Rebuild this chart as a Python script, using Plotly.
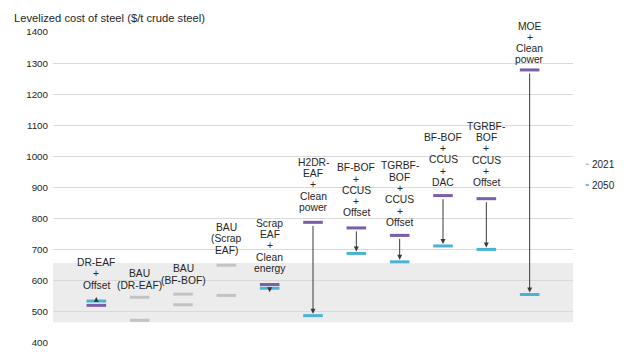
import plotly.graph_objects as go

# ---------------- data ----------------
categories = ["DR-EAF + Offset", "BAU (DR-EAF)", "BAU (BF-BOF)", "BAU (Scrap EAF)",
              "Scrap EAF + Clean energy", "H2DR-EAF + Clean power",
              "BF-BOF + CCUS + Offset", "TGRBF-BOF + CCUS + Offset",
              "BF-BOF + CCUS + DAC", "TGRBF-BOF + CCUS + Offset (2)", "MOE + Clean power"]
label_lines = [
    ["DR-EAF", "+", "Offset"],
    ["BAU", "(DR-EAF)"],
    ["BAU", "(BF-BOF)"],
    ["BAU", "(Scrap", "EAF)"],
    ["Scrap", "EAF", "+", "Clean", "energy"],
    ["H2DR-", "EAF", "+", "Clean", "power"],
    ["BF-BOF", "+", "CCUS", "+", "Offset"],
    ["TGRBF-", "BOF", "+", "CCUS", "+", "Offset"],
    ["BF-BOF", "+", "CCUS", "+", "DAC"],
    ["TGRBF-", "BOF", "+", "CCUS", "+", "Offset"],
    ["MOE", "+", "Clean", "power"],
]
is_bau = [False, True, True, True, False, False, False, False, False, False, False]
cost_2021 = [521, 547, 557, 650, 588, 788, 770, 746, 874, 864, 1278]
cost_2050 = [535, 473, 523, 553, 576, 488, 688, 661, 712, 701, 556]
y_ticks = [400, 500, 600, 700, 800, 900, 1000, 1100, 1200, 1300, 1400]
band_low, band_high = 467, 657

# ---------------- style ----------------
PURPLE = "#7a5ea8"
CYAN = "#4ab3d1"
GRAY = "#c3c3c3"
ARROW = "#3a3a3a"
TEXT = "#262626"
FONT = "Liberation Sans, Arial, sans-serif"
label_gap = [16, 12, 14, 15, 16, 15, 15, 13, 13, 16, 10]
line_step = 11.3

xpos = list(range(1, len(categories) + 1))

fig = go.Figure()

px = [x for x, b in zip(xpos, is_bau) if not b]
p21 = [v for v, b in zip(cost_2021, is_bau) if not b]
p50 = [v for v, b in zip(cost_2050, is_bau) if not b]
bx = [x for x, b in zip(xpos, is_bau) if b]
b21 = [v for v, b in zip(cost_2021, is_bau) if b]
b50 = [v for v, b in zip(cost_2050, is_bau) if b]

fig.add_trace(go.Scatter(x=bx + bx, y=b21 + b50, mode="markers", showlegend=False,
                         marker=dict(symbol="line-ew", size=14,
                                     line=dict(width=3, color=GRAY)),
                         hoverinfo="skip"))
fig.add_trace(go.Scatter(x=px, y=p21, mode="markers", showlegend=False,
                         marker=dict(symbol="line-ew", size=14,
                                     line=dict(width=3, color=PURPLE)),
                         hoverinfo="skip"))
fig.add_trace(go.Scatter(x=px, y=p50, mode="markers", showlegend=False,
                         marker=dict(symbol="line-ew", size=14,
                                     line=dict(width=3, color=CYAN)),
                         hoverinfo="skip"))

annotations = []
for x, a, b, bau in zip(xpos, cost_2021, cost_2050, is_bau):
    if bau:
        continue
    short = abs(a - b) < 30
    shift = (4 if b > a else -4) if short else 0
    annotations.append(dict(x=x, y=b, ax=x, ay=a, xref="x", yref="y", axref="x", ayref="y",
                            showarrow=True, arrowhead=2, arrowsize=1, arrowwidth=1,
                            arrowcolor=ARROW, standoff=0 if short else 2,
                            startstandoff=0 if short else 2, yshift=shift, text=""))

for x, lines, a, b, gap in zip(xpos, label_lines, cost_2021, cost_2050, label_gap):
    top = max(a, b)
    n = len(lines)
    for i, t in enumerate(lines):
        annotations.append(dict(x=x, y=top, xref="x", yref="y", text=t, showarrow=False,
                                xanchor="center", yanchor="middle",
                                yshift=gap + (n - 1 - i) * line_step,
                                font=dict(family=FONT, size=10.3, color=TEXT)))

L, R, T, B = 53, 67, 32, 17
W, H = 640 - L - R, 360 - T - B

def px_to_paper(xp, yp):
    return (xp - L) / W, (360 - yp - B) / H

for name, ypx in [("2021", 164.3), ("2050", 185)]:
    xx, yy = px_to_paper(590, ypx)
    annotations.append(dict(x=xx, y=yy, xref="paper", yref="paper", text=name,
                            showarrow=False, xanchor="left", yanchor="middle",
                            font=dict(family=FONT, size=10, color=TEXT)))

tx, ty = px_to_paper(12, 18.3)
annotations.append(dict(x=tx, y=ty, xref="paper", yref="paper",
                        text="Levelized cost of steel ($/t crude steel)", showarrow=False,
                        xanchor="left", yanchor="middle",
                        font=dict(family=FONT, size=11.2, color=TEXT)))

shapes = [dict(type="rect", xref="paper", yref="y", x0=0, x1=1, y0=band_low, y1=band_high,
               fillcolor="#ececec", line=dict(width=0), layer="below")]
for col, ypx in [(GRAY, 164.3), (CYAN, 185)]:
    x0, yp = px_to_paper(585.5, ypx)
    x1, _ = px_to_paper(589, ypx)
    shapes.append(dict(type="line", xref="paper", yref="paper",
                       x0=x0, x1=x1, y0=yp, y1=yp,
                       line=dict(color=col, width=1.5)))

fig.update_layout(
    width=640, height=360,
    margin=dict(l=L, r=R, t=T, b=B),
    paper_bgcolor="white", plot_bgcolor="white",
    showlegend=False,
    xaxis=dict(range=[0, 12], showgrid=False, zeroline=False, showticklabels=False,
               showline=False, ticks=""),
    yaxis=dict(range=[400, 1400], tickvals=y_ticks, showgrid=True, gridcolor="#d9d9d9",
               gridwidth=1, zeroline=False, showline=False, ticks="",
               tickfont=dict(family=FONT, size=9.8, color=TEXT), ticklabelstandoff=4),
    annotations=annotations,
    shapes=shapes,
)

fig.write_html("out.html", config={"displayModeBar": False},
               post_script="document.body.style.margin='0';")
